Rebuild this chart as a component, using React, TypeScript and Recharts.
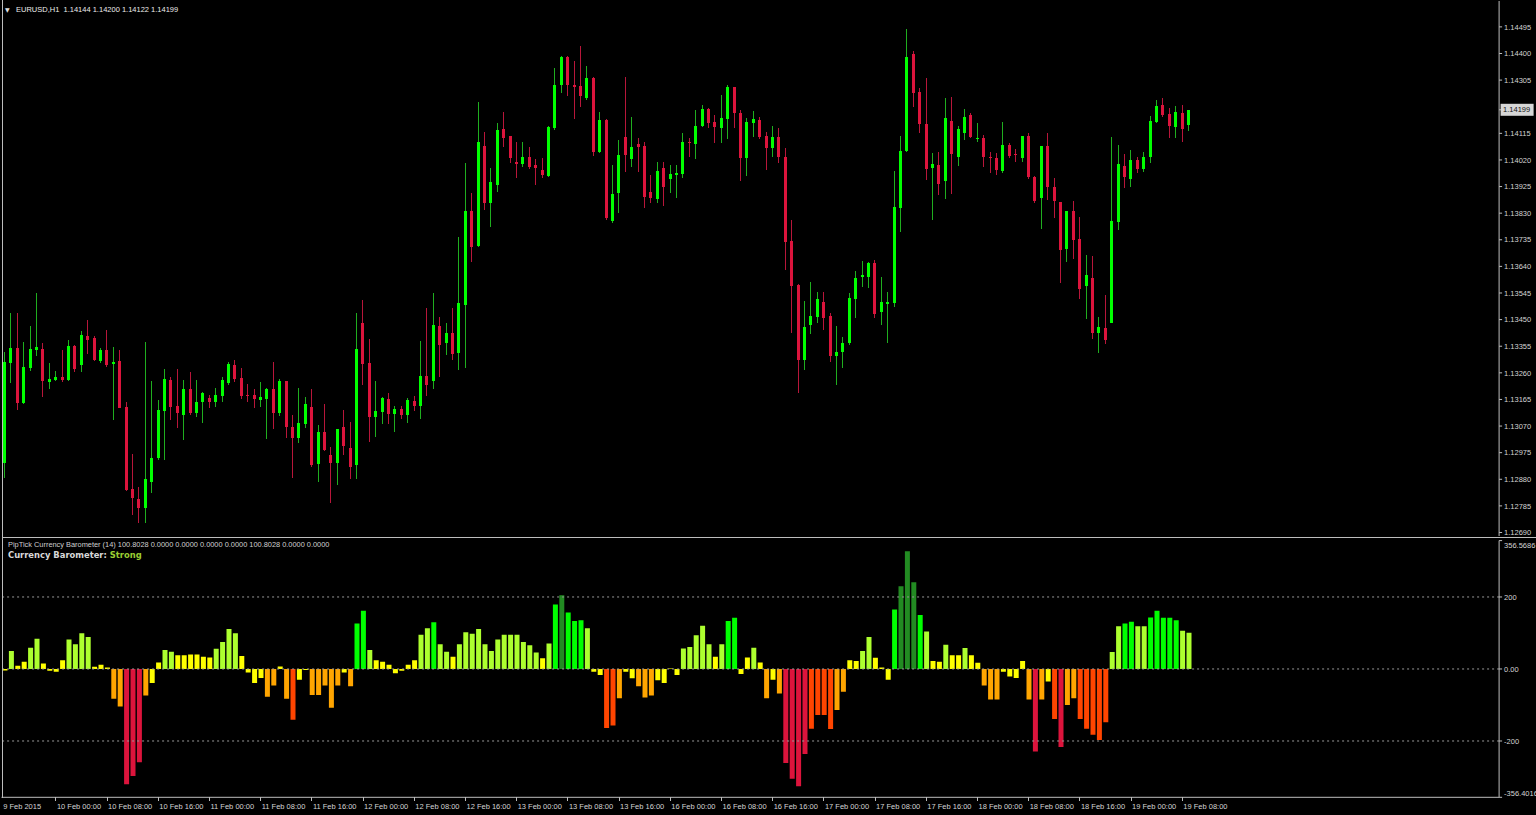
import React from 'react';
import { ComposedChart, Bar, XAxis, YAxis, ReferenceLine, Cell } from 'recharts';

// ---------- DATA (EURUSD H1) ----------
const opens = [
  1.12938, 1.13296, 1.13348, 1.13151, 1.13276, 1.13342, 1.13345, 1.13228, 1.13233, 1.13244,
  1.13234, 1.13356, 1.13288, 1.13392, 1.13386, 1.13303, 1.13342, 1.13290, 1.13303, 1.13139,
  1.12844, 1.12810, 1.12776, 1.12871, 1.12955, 1.13124, 1.13234, 1.13141, 1.13109, 1.13204,
  1.13116, 1.13157, 1.13169, 1.13157, 1.13177, 1.13223, 1.13288, 1.13240, 1.13181, 1.13181,
  1.13163, 1.13165, 1.13201, 1.13118, 1.13231, 1.13065, 1.13026, 1.13077, 1.13139, 1.12934,
  1.13050, 1.12967, 1.12939, 1.13065, 1.12991, 1.12931, 1.13437, 1.13296, 1.13101, 1.13121,
  1.13167, 1.13113, 1.13131, 1.13109, 1.13159, 1.13141, 1.13249, 1.13231, 1.13427, 1.13365,
  1.13401, 1.13330, 1.13502, 1.13838, 1.13714, 1.14071, 1.13867, 1.13931, 1.14129, 1.14105,
  1.14014, 1.14006, 1.14032, 1.14002, 1.13984, 1.13964, 1.14133, 1.14288, 1.14387, 1.14288,
  1.14285, 1.14242, 1.14312, 1.14049, 1.14163, 1.13803, 1.13901, 1.14103, 1.14022, 1.14076,
  1.14071, 1.13904, 1.13879, 1.13990, 1.13951, 1.13965, 1.13970, 1.14085, 1.14076, 1.14141,
  1.14202, 1.14154, 1.14135, 1.14166, 1.14279, 1.14186, 1.14026, 1.14153, 1.14163, 1.14105,
  1.14062, 1.14103, 1.14032, 1.13731, 1.13574, 1.13306, 1.13430, 1.13461, 1.13512, 1.13463,
  1.13320, 1.13335, 1.13365, 1.13522, 1.13601, 1.13603, 1.13651, 1.13478, 1.13505, 1.13510,
  1.13850, 1.14053, 1.14397, 1.14262, 1.14147, 1.13990, 1.14002, 1.13945, 1.14159, 1.14030,
  1.14117, 1.14180, 1.14095, 1.14099, 1.14032, 1.14028, 1.13982, 1.14073, 1.14040, 1.14026,
  1.14105, 1.13960, 1.13883, 1.14070, 1.13925, 1.13871, 1.13701, 1.13836, 1.13737, 1.13570,
  1.13597, 1.13403, 1.13419, 1.13439, 1.13800, 1.13999, 1.13951, 1.14020, 1.13987, 1.14032,
  1.14157, 1.14216, 1.14184, 1.14139, 1.14189, 1.14144,
];
const highs = [
  1.13335, 1.13473, 1.13473, 1.13371, 1.13427, 1.13546, 1.13366, 1.13296, 1.13267, 1.13342,
  1.13377, 1.13359, 1.13409, 1.13449, 1.13390, 1.13348, 1.13413, 1.13353, 1.13342, 1.13157,
  1.12969, 1.12854, 1.13369, 1.13231, 1.13163, 1.13273, 1.13246, 1.13273, 1.13234, 1.13264,
  1.13234, 1.13193, 1.13181, 1.13205, 1.13246, 1.13300, 1.13306, 1.13276, 1.13220, 1.13201,
  1.13226, 1.13205, 1.13300, 1.13238, 1.13231, 1.13109, 1.13205, 1.13172, 1.13201, 1.13072,
  1.13149, 1.12996, 1.13060, 1.13127, 1.13085, 1.13473, 1.13520, 1.13381, 1.13231, 1.13174,
  1.13189, 1.13141, 1.13141, 1.13169, 1.13177, 1.13374, 1.13490, 1.13544, 1.13460, 1.13437,
  1.13490, 1.13744, 1.14010, 1.13901, 1.14226, 1.14121, 1.13990, 1.14153, 1.14190, 1.14105,
  1.14083, 1.14085, 1.14065, 1.14022, 1.14028, 1.14142, 1.14347, 1.14392, 1.14390, 1.14374,
  1.14427, 1.14355, 1.14315, 1.14192, 1.14166, 1.14002, 1.14091, 1.14315, 1.14174, 1.14099,
  1.14085, 1.13966, 1.14014, 1.14012, 1.14002, 1.14002, 1.14115, 1.14097, 1.14198, 1.14216,
  1.14204, 1.14180, 1.14252, 1.14288, 1.14282, 1.14198, 1.14169, 1.14196, 1.14174, 1.14121,
  1.14142, 1.14133, 1.14062, 1.13806, 1.13577, 1.13517, 1.13583, 1.13547, 1.13550, 1.13475,
  1.13427, 1.13389, 1.13546, 1.13625, 1.13660, 1.13657, 1.13663, 1.13603, 1.13550, 1.13982,
  1.14105, 1.14487, 1.14410, 1.14276, 1.14311, 1.14044, 1.14050, 1.14240, 1.14246, 1.14141,
  1.14201, 1.14186, 1.14151, 1.14109, 1.14050, 1.14044, 1.14154, 1.14079, 1.14058, 1.14105,
  1.14117, 1.13963, 1.14070, 1.14115, 1.13954, 1.13871, 1.13838, 1.13873, 1.13817, 1.13681,
  1.13677, 1.13461, 1.13538, 1.14101, 1.14073, 1.14042, 1.14055, 1.14032, 1.14050, 1.14177,
  1.14234, 1.14240, 1.14204, 1.14213, 1.14216, 1.14200,
];
const lows = [
  1.12885, 1.13223, 1.13127, 1.13149, 1.13268, 1.13320, 1.13172, 1.13201, 1.13231, 1.13228,
  1.13231, 1.13264, 1.13264, 1.13327, 1.13302, 1.13296, 1.13280, 1.13092, 1.13133, 1.12839,
  1.12752, 1.12723, 1.12723, 1.12830, 1.12949, 1.12949, 1.13092, 1.13062, 1.13020, 1.13109,
  1.13103, 1.13080, 1.13136, 1.13139, 1.13157, 1.13217, 1.13228, 1.13165, 1.13157, 1.13136,
  1.13139, 1.13023, 1.13058, 1.13106, 1.13026, 1.12884, 1.13009, 1.13062, 1.12925, 1.12871,
  1.12982, 1.12794, 1.12860, 1.12967, 1.12881, 1.12881, 1.13217, 1.13014, 1.13032, 1.13076,
  1.13077, 1.13050, 1.13094, 1.13082, 1.13124, 1.13094, 1.13177, 1.13201, 1.13246, 1.13324,
  1.13306, 1.13270, 1.13276, 1.13657, 1.13710, 1.13841, 1.13780, 1.13907, 1.14065, 1.14010,
  1.13956, 1.13996, 1.13987, 1.13931, 1.13955, 1.13960, 1.14127, 1.14258, 1.14248, 1.14165,
  1.14208, 1.14234, 1.14034, 1.14044, 1.13806, 1.13794, 1.13830, 1.13978, 1.13996, 1.13978,
  1.13847, 1.13867, 1.13865, 1.13856, 1.13901, 1.13883, 1.13955, 1.14030, 1.14024, 1.14139,
  1.14135, 1.14082, 1.14082, 1.14095, 1.14133, 1.13946, 1.13964, 1.14101, 1.14095, 1.13984,
  1.14032, 1.14010, 1.13627, 1.13401, 1.13189, 1.13270, 1.13398, 1.13437, 1.13414, 1.13300,
  1.13217, 1.13276, 1.13359, 1.13455, 1.13568, 1.13562, 1.13455, 1.13430, 1.13367, 1.13496,
  1.13762, 1.14050, 1.14210, 1.14115, 1.13948, 1.13806, 1.13895, 1.13879, 1.13898, 1.13998,
  1.14091, 1.14097, 1.14085, 1.13996, 1.13972, 1.13966, 1.13972, 1.14026, 1.14014, 1.14014,
  1.13951, 1.13865, 1.13772, 1.13877, 1.13812, 1.13582, 1.13657, 1.13665, 1.13522, 1.13452,
  1.13380, 1.13332, 1.13363, 1.13437, 1.13770, 1.13919, 1.13925, 1.13972, 1.13978, 1.14008,
  1.14153, 1.14174, 1.14099, 1.14097, 1.14085, 1.14122,
];
const closes = [
  1.13300, 1.13348, 1.13151, 1.13280, 1.13344, 1.13352, 1.13231, 1.13238, 1.13246, 1.13234,
  1.13356, 1.13273, 1.13395, 1.13377, 1.13306, 1.13342, 1.13288, 1.13300, 1.13136, 1.12842,
  1.12812, 1.12776, 1.12880, 1.12955, 1.13127, 1.13238, 1.13139, 1.13116, 1.13204, 1.13116,
  1.13157, 1.13189, 1.13157, 1.13181, 1.13234, 1.13290, 1.13237, 1.13177, 1.13177, 1.13165,
  1.13174, 1.13201, 1.13118, 1.13231, 1.13068, 1.13026, 1.13080, 1.13148, 1.12931, 1.13050,
  1.12985, 1.12937, 1.13060, 1.12999, 1.12925, 1.13344, 1.13292, 1.13103, 1.13124, 1.13169,
  1.13112, 1.13131, 1.13109, 1.13163, 1.13141, 1.13249, 1.13217, 1.13431, 1.13359, 1.13401,
  1.13327, 1.13508, 1.13838, 1.13710, 1.14085, 1.13867, 1.13940, 1.14127, 1.14097, 1.14028,
  1.14004, 1.14032, 1.13996, 1.13990, 1.13967, 1.14139, 1.14288, 1.14389, 1.14288, 1.14279,
  1.14249, 1.14313, 1.14049, 1.14163, 1.13812, 1.13898, 1.14038, 1.14038, 1.14067, 1.14067,
  1.13889, 1.13885, 1.13982, 1.13922, 1.13971, 1.13972, 1.14083, 1.14080, 1.14142, 1.14202,
  1.14153, 1.14139, 1.14171, 1.14281, 1.14186, 1.14028, 1.14157, 1.14165, 1.14103, 1.14062,
  1.14101, 1.14030, 1.13728, 1.13570, 1.13306, 1.13424, 1.13463, 1.13524, 1.13457, 1.13319,
  1.13335, 1.13367, 1.13528, 1.13597, 1.13610, 1.13651, 1.13470, 1.13514, 1.13514, 1.13851,
  1.14053, 1.14387, 1.14258, 1.14147, 1.13987, 1.14004, 1.13934, 1.14171, 1.14042, 1.14129,
  1.14174, 1.14103, 1.14099, 1.14032, 1.14026, 1.13984, 1.14073, 1.14034, 1.14037, 1.14105,
  1.13958, 1.13873, 1.14070, 1.13922, 1.13873, 1.13699, 1.13838, 1.13734, 1.13558, 1.13610,
  1.13403, 1.13424, 1.13377, 1.13803, 1.14006, 1.13960, 1.14018, 1.13987, 1.14032, 1.14160,
  1.14213, 1.14180, 1.14142, 1.14192, 1.14129, 1.14199,
];
// PipTick Currency Barometer (14)
const baro = [
  -4, 50, 9, 20, 59, 84, 15, -5, -8, 24,
  82, 69, 99, 89, 6, 12, 4, -83, -104, -320,
  -297, -259, -74, -39, 18, 53, 48, 38, 38, 40,
  40, 34, 32, 56, 75, 111, 99, 36, -10, -39,
  -25, -77, -46, 7, -83, -141, -30, -3, -72, -72,
  -46, -108, -46, -10, -48, 126, 162, 53, 24, 20,
  12, -12, -5, 12, 24, 95, 113, 130, 69, 48,
  34, 69, 102, 98, 111, 69, 50, 82, 95, 95,
  95, 75, 66, 46, 30, 71, 179, 205, 157, 133,
  135, 113, -8, -17, -164, -157, -81, -8, -26, -48,
  -79, -74, -31, -39, 1, -17, 57, 61, 94, 120,
  69, 34, 69, 133, 142, -14, 32, 59, 18, -81,
  -30, -68, -261, -305, -326, -236, -166, -128, -128, -167,
  -114, -63, 24, 22, 50, 89, 31, 4, -30, 165,
  230, 327, 241, 150, 104, 22, 20, 67, 38, 38,
  58, 38, 17, -46, -85, -85, -8, -21, -25, 22,
  -85, -229, -85, -35, -139, -217, -100, -81, -139, -166,
  -183, -197, -148, 47, 119, 126, 131, 119, 119, 143,
  162, 142, 142, 135, 106, 100.8028,
];
const tickBars = [0, 8, 16, 24, 32, 40, 48, 56, 64, 72, 80, 88, 96, 104, 112, 120, 128, 136, 144, 152, 160, 168, 176, 184];
const tickLabels = [
  '9 Feb 2015', '10 Feb 00:00', '10 Feb 08:00', '10 Feb 16:00', '11 Feb 00:00', '11 Feb 08:00',
  '11 Feb 16:00', '12 Feb 00:00', '12 Feb 08:00', '12 Feb 16:00', '13 Feb 00:00', '13 Feb 08:00',
  '13 Feb 16:00', '16 Feb 00:00', '16 Feb 08:00', '16 Feb 16:00', '17 Feb 00:00', '17 Feb 08:00',
  '17 Feb 16:00', '18 Feb 00:00', '18 Feb 08:00', '18 Feb 16:00', '19 Feb 00:00', '19 Feb 08:00',
];
const priceTicks = [
  1.1269, 1.12785, 1.1288, 1.12975, 1.1307, 1.13165, 1.1326, 1.13355, 1.1345, 1.13545,
  1.1364, 1.13735, 1.1383, 1.13925, 1.1402, 1.14115, 1.14305, 1.144, 1.14495,
];
const priceDomain = [1.126775, 1.145874];
const baroTicks = [356.5686, 200, 0, -200, -356.4016];
const baroLevels = [200, 0, -200];
const SHIFT_BARS = 48; // empty space to the right (chart shift)

// ---------- STYLE ----------
const FONT = '"Liberation Sans", Arial, sans-serif';
const FRAME = '#bdbdbd';
const TEXT = '#d4d4d4';
const BULL = '#00ff00';
const BEAR = '#dc143c';
const WICK_UP = '#1fae1f';
const WICK_DOWN = '#b8163a';

const N = opens.length;
const LAST = N - 1;
const table = Array.from({ length: N + SHIFT_BARS }, (_, i) =>
  i < N
    ? { i, open: opens[i], high: highs[i], low: lows[i], close: closes[i], range: [lows[i], highs[i]], baro: baro[i] }
    : { i, open: null, high: null, low: null, close: null, range: null, baro: null }
);

const baroColor = (v: number | null) => {
  if (v == null) return 'transparent';
  if (v >= 200) return '#228b22';
  if (v >= 124) return '#00ff00';
  if (v >= 43) return '#adff2f';
  if (v > -43) return '#ffff00';
  if (v > -120) return '#ffa500';
  if (v > -200) return '#ff4500';
  return '#dc143c';
};

const Candle = (props: any) => {
  const { x, y, width, height, payload } = props;
  if (!payload || payload.open == null || !isFinite(y) || !isFinite(height)) return null;
  const { open, close, high, low } = payload;
  const top = Math.min(y, y + height);
  const span = Math.abs(height);
  const k = high > low ? span / (high - low) : 0;
  const py = (p: number) => top + (high - p) * k;
  const cx = x + width / 2;
  const up = close >= open;
  const bTop = py(Math.max(open, close));
  const bH = Math.max(1, py(Math.min(open, close)) - bTop);
  return (
    <g shapeRendering="crispEdges">
      <line x1={cx} x2={cx} y1={py(high)} y2={py(low)} stroke={up ? WICK_UP : WICK_DOWN} strokeWidth={1} />
      <rect x={cx - 1.5} y={bTop} width={3} height={bH} fill={up ? BULL : BEAR} />
    </g>
  );
};

const PriceTick = (props: any) => {
  const { x, y, payload } = props;
  const v = payload.value as number;
  const label = v.toFixed(5);
  if (v === closes[LAST]) {
    return (
      <g>
        <rect x={x - 3.5} y={y - 6} width={33} height={12} fill="#d6d6d6" />
        <text x={x - 1} y={y} dy={2.7} fontSize={7.5} fontFamily={FONT} fill="#101010">{label}</text>
      </g>
    );
  }
  return <text x={x} y={y} dy={2.7} fontSize={7.5} fontFamily={FONT} fill={TEXT}>{label}</text>;
};

const BaroTick = (props: any) => {
  const { x, y, payload } = props;
  const v = payload.value as number;
  const label = v === 0 ? '0.00' : Number.isInteger(v) ? String(v) : v.toFixed(4);
  const dy = v === baroTicks[0] ? 7 : v === baroTicks[baroTicks.length - 1] ? -1.5 : 2.7;
  return <text x={x} y={y} dy={dy} fontSize={7.5} fontFamily={FONT} fill={TEXT}>{label}</text>;
};

const TimeTick = (props: any) => {
  const { x, y, payload } = props;
  const k = tickBars.indexOf(payload.value);
  if (k < 0) return null;
  return (
    <g>
      {k > 0 && <line x1={x} x2={x} y1={y - 4} y2={y} stroke={FRAME} strokeWidth={1} shapeRendering="crispEdges" />}
      <text x={k === 0 ? x - 1.5 : x + 1} y={y} dy={8} fontSize={7.5} fontFamily={FONT} fill={TEXT}>{tickLabels[k]}</text>
    </g>
  );
};

export default function App() {
  const header = `EURUSD,H1  ${opens[LAST].toFixed(5)} ${highs[LAST].toFixed(5)} ${lows[LAST].toFixed(5)} ${closes[LAST].toFixed(5)}`;
  const cur = baro[LAST].toFixed(4);
  const indHeader = `PipTick Currency Barometer (14) ${cur} 0.0000 0.0000 0.0000 0.0000 ${cur} 0.0000 0.0000`;
  return (
    <div style={{ position: 'absolute', left: 0, top: 0, width: 1536, height: 815, background: '#000', overflow: 'hidden', fontFamily: FONT }}>
      <div style={{ position: 'absolute', left: 0, top: 0 }}>
        <ComposedChart width={1536} height={537} data={table} margin={{ top: 1, right: 0, bottom: 1, left: 1.5 }} barCategoryGap={0}>
          <XAxis dataKey="i" type="category" hide />
          <YAxis
            orientation="right"
            width={36.9}
            type="number"
            domain={priceDomain}
            allowDataOverflow
            ticks={[...priceTicks, closes[LAST]]}
            interval={0}
            tickSize={3}
            tickMargin={2}
            axisLine={{ stroke: FRAME }}
            tickLine={{ stroke: FRAME }}
            tick={<PriceTick />}
          />
          <Bar dataKey="range" shape={<Candle />} isAnimationActive={false} />
        </ComposedChart>
      </div>
      <div style={{ position: 'absolute', left: 0, top: 538 }}>
        <ComposedChart width={1536} height={277} data={table} margin={{ top: 2.6, right: 0, bottom: 0, left: 1.5 }} barCategoryGap={0}>
          <XAxis
            dataKey="i"
            type="category"
            ticks={tickBars}
            interval={0}
            height={17.7}
            tickSize={4}
            tickMargin={0}
            tickLine={false}
            axisLine={{ stroke: FRAME }}
            tick={<TimeTick />}
          />
          <YAxis
            orientation="right"
            width={36.9}
            type="number"
            domain={[baroTicks[baroTicks.length - 1], baroTicks[0]]}
            allowDataOverflow
            ticks={baroTicks}
            interval={0}
            tickSize={3}
            tickMargin={2}
            axisLine={{ stroke: FRAME }}
            tickLine={{ stroke: FRAME }}
            tick={<BaroTick />}
          />
          {baroLevels.map((lv) => (
            <ReferenceLine key={lv} y={lv} stroke="#9a9a9a" strokeDasharray="2 3" strokeWidth={1} />
          ))}
          <Bar dataKey="baro" barSize={5} isAnimationActive={false}>
            {table.map((d) => (
              <Cell key={d.i} fill={baroColor(d.baro)} />
            ))}
          </Bar>
        </ComposedChart>
      </div>
      {/* frame */}
      <div style={{ position: 'absolute', left: 2, top: 0, width: 1, height: 798, background: FRAME }} />
      <div style={{ position: 'absolute', left: 2, top: 537, width: 1534, height: 1, background: FRAME }} />
      {/* texts */}
      <div style={{ position: 'absolute', left: 5, top: 6, fontSize: 6, lineHeight: '8px', color: '#e0e0e0', fontFamily: '"DejaVu Sans", sans-serif' }}>▼</div>
      <div style={{ position: 'absolute', left: 16, top: 5, fontSize: 7.5, lineHeight: '10px', color: '#ececec', whiteSpace: 'pre' }}>{header}</div>
      <div style={{ position: 'absolute', left: 8, top: 540, fontSize: 7.4, lineHeight: '10px', color: '#cfcfcf', whiteSpace: 'pre' }}>{indHeader}</div>
      <div style={{ position: 'absolute', left: 8, top: 550, fontSize: 8.4, lineHeight: '10px', fontWeight: 'bold', fontFamily: '"DejaVu Sans", sans-serif', whiteSpace: 'pre' }}>
        <span style={{ color: '#d8d8d8' }}>Currency Barometer: </span>
        <span style={{ color: '#9acd32' }}>Strong</span>
      </div>
    </div>
  );
}
